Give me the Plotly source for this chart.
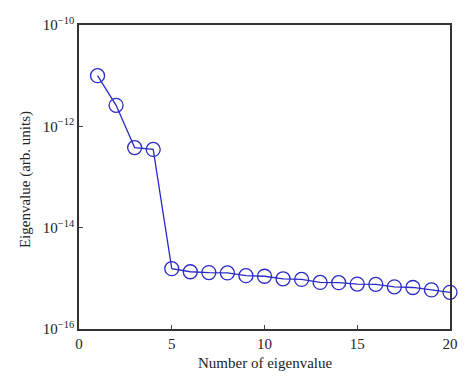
import plotly.graph_objects as go

eig_index = list(range(1, 21))
eig_values = [1.0e-11, 2.6e-12, 3.8e-13, 3.5e-13, 1.55e-15, 1.35e-15, 1.3e-15, 1.28e-15,
              1.13e-15, 1.1e-15, 0.98e-15, 0.95e-15, 0.83e-15, 0.82e-15, 0.77e-15,
              0.76e-15, 0.68e-15, 0.66e-15, 0.59e-15, 0.53e-15]
x_ticks = [0, 5, 10, 15, 20]
y_tickvals = [1e-16, 1e-14, 1e-12, 1e-10]
y_ticktext = ["10<sup>\u221216</sup>", "10<sup>\u221214</sup>", "10<sup>\u221212</sup>", "10<sup>\u221210</sup>"]

fig = go.Figure()
fig.add_trace(go.Scatter(
    x=eig_index, y=eig_values, mode="lines+markers",
    line=dict(color="#2a2ac8", width=1.3),
    marker=dict(symbol="circle-open", size=14, color="#2a2ac8", line=dict(width=1.3)),
    showlegend=False, cliponaxis=False,
))

font = dict(family="Liberation Serif, DejaVu Serif, serif", size=15, color="#222")
# page body has an 8px default margin, so the figure is offset by 8px
fig.update_layout(
    width=466, height=380,
    margin=dict(l=71, r=24, t=17, b=59),
    paper_bgcolor="white", plot_bgcolor="white",
    font=font,
)
fig.update_xaxes(
    range=[0, 20], tickvals=x_ticks, ticks="inside", ticklen=4,
    showline=True, linecolor="#333", linewidth=1.5, mirror=True,
    showgrid=False, zeroline=False, automargin=False,
)
fig.update_yaxes(
    type="log", range=[-16, -10], tickvals=y_tickvals, ticktext=y_ticktext,
    ticks="inside", ticklen=4,
    showline=True, linecolor="#333", linewidth=1.5, mirror=True,
    showgrid=False, zeroline=False, automargin=False,
)
fig.add_annotation(text="Number of eigenvalue", xref="paper", yref="paper",
                   x=0.5, y=0, yshift=-34, yanchor="middle", showarrow=False, font=font)
fig.add_annotation(text="Eigenvalue (arb. units)", xref="paper", yref="paper",
                   x=0, xshift=-54, y=0.49, xanchor="center", yanchor="middle",
                   textangle=-90, showarrow=False, font=font)
fig.write_html("out.html")
